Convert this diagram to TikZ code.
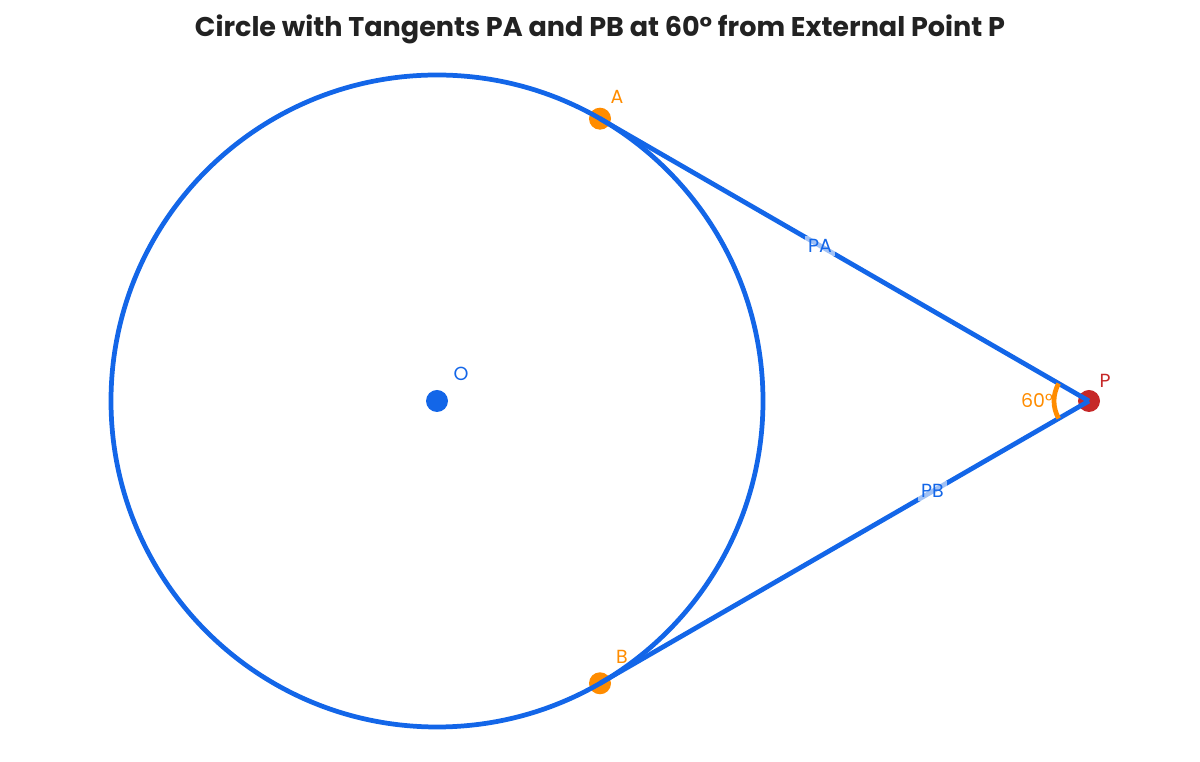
\documentclass[tikz,border=0pt]{standalone}
\usepackage{fontspec}
\setmainfont{Poppins}
\usepackage{xcolor}
\usetikzlibrary{positioning}

\definecolor{lineblue}{HTML}{1366E8}
\definecolor{ptorange}{HTML}{FF8C00}
\definecolor{ptred}{HTML}{C62828}
\definecolor{titlegray}{HTML}{222222}

\tikzset{
	dot/.style={circle,fill=#1,inner sep=0pt,minimum size=0.22cm},
	ptlabel/.style={font=\fontsize{5.4}{6}\selectfont,text=#1},
	seglabel/.style={font=\fontsize{5.4}{6}\selectfont,text=lineblue,fill=white,fill opacity=0.6,text opacity=1,inner sep=1pt},
	geo/.style={lineblue,line width=1.35pt}
}

\begin{document}
\begin{tikzpicture}
	\useasboundingbox (0,0) rectangle (12,7.62);
	\node[font=\bfseries\fontsize{7.7}{9}\selectfont,text=titlegray] (title) at (6,7.33) {Circle with Tangents PA and PB at 60° from External Point P};
	
	\node[dot=lineblue] (O) at (4.37,3.61) {};
	\node[dot=ptorange] (A) at (6.00,6.433) {};
	\node[dot=ptorange] (B) at (6.00,0.787) {};
	\node[dot=ptred] (P) at (10.89,3.61) {};
	
	\node[ptlabel=lineblue] (Olab) at (4.61,3.88) {O};
	\node[ptlabel=ptorange] (Alab) at (6.17,6.65) {A};
	\node[ptlabel=ptorange] (Blab) at (6.22,1.05) {B};
	\node[ptlabel=ptred] (Plab) at (11.05,3.81) {P};
	
	\draw [geo] (O.center) circle (3.26);
	\draw [geo] (P.center) -- node[seglabel,pos=0.55] {PA} (A.center);
	\draw [geo] (P.center) -- node[seglabel,pos=0.32] {PB} (B.center);
	
	\draw [ptorange,line width=1.35pt] (P.center) ++(150:0.35) arc (150:210:0.35);
	\node[ptlabel=ptorange,anchor=east,inner sep=0pt] (ang) at (10.535,3.61) {60°};
	
\end{tikzpicture}
\end{document}
